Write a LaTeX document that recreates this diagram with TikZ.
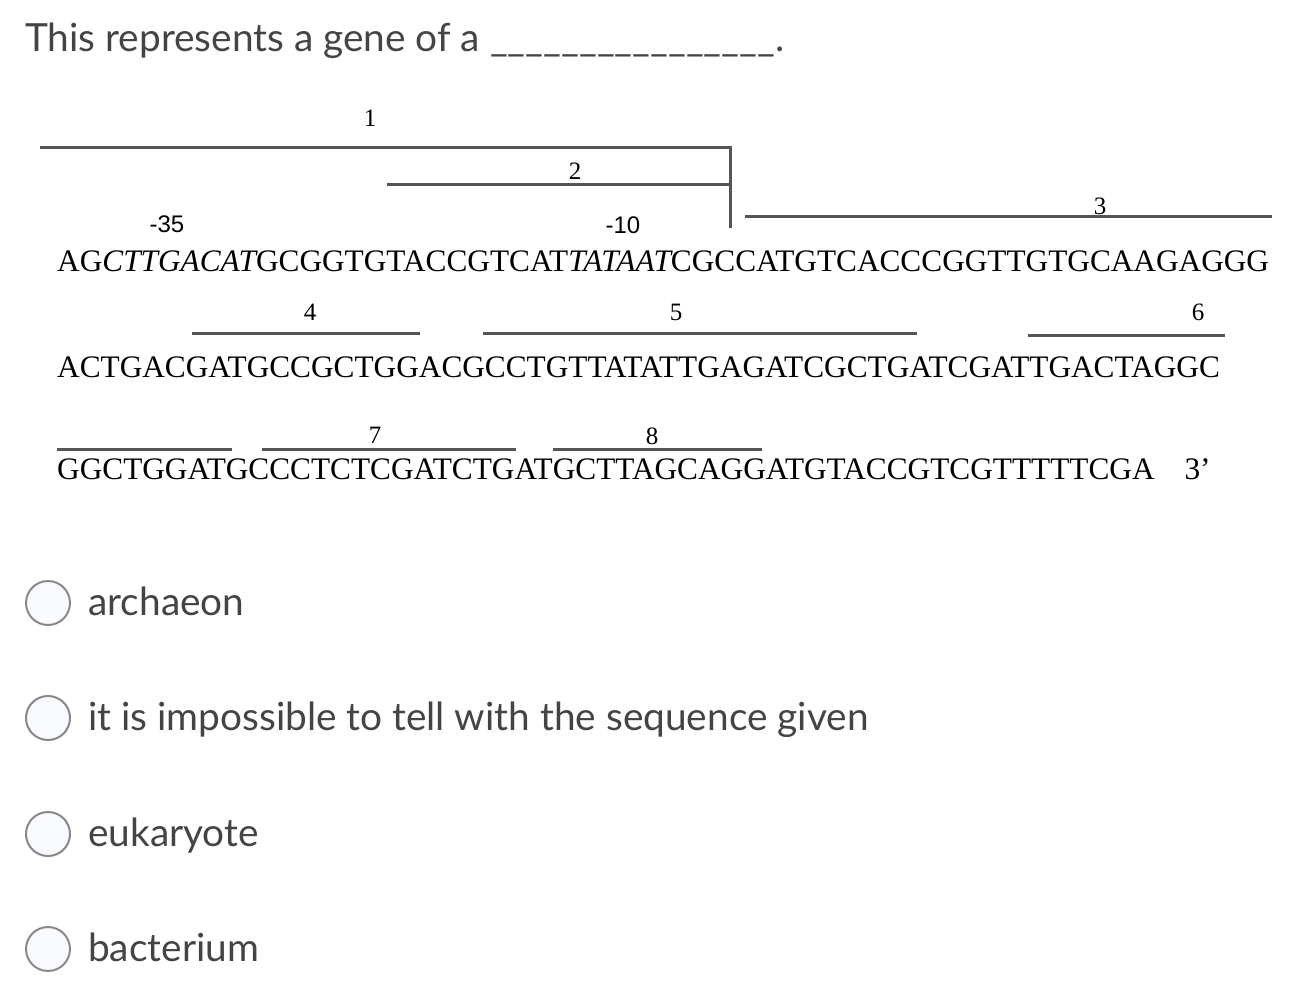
\documentclass[tikz,border=0pt]{standalone}
\usepackage{fontspec}
\setmainfont{Lato}
\newfontfamily\seqfont{Liberation Serif}
\newfontfamily\boxfont{Liberation Sans}
\usepackage{xcolor}
\definecolor{txtgray}{RGB}{68,68,68}
\definecolor{bargray}{RGB}{85,85,85}
\definecolor{ringgray}{RGB}{136,136,136}
\definecolor{ringfill}{RGB}{248,250,255}

\begin{document}
\begin{tikzpicture}[x=1pt, y=-1pt, question/.style={anchor=base west, inner sep=0pt, text=txtgray, font=\fontsize{38.8}{46}\selectfont}, seq/.style={anchor=base west, inner sep=0pt, font=\seqfont\fontsize{31.3}{36}\selectfont}, num/.style={inner sep=0pt, font=\seqfont\fontsize{25}{28}\selectfont}, boxlabel/.style={inner sep=0pt, font=\boxfont\fontsize{24}{28}\selectfont}, bar/.style={draw=bargray, line width=3pt}, radio/.style={circle, draw=ringgray, fill=ringfill, line width=2pt, minimum size=44pt, inner sep=0pt}]
\useasboundingbox (0,0) rectangle (1294,990);
\node[question] (title) at (25,52) {This represents a gene of a \_\_\_\_\_\_\_\_\_\_\_\_\_\_\_\_.};
\node[num] (l1) at (370,118) {1};
\node[num] (l2) at (575,171) {2};
\node[num] (l3) at (1100,206) {3};
\node[boxlabel] (m35) at (167,224) {-35};
\node[boxlabel] (m10) at (623,225) {-10};
\draw[bar] (40,147) -- (730,147) -- (730,228);
\draw[bar] (387,184) -- (730,184);
\draw[bar] (745,216) -- (1272,216);
\node[seq] (seqa) at (57,271) {AG{\itshape CTTGACAT}GCGGTGTACCGTCAT{\itshape TATAAT}CGCCATGTCACCCGGTTGTGCAAGAGGG};
\node[num] (l4) at (310,312) {4};
\node[num] (l5) at (676,312) {5};
\node[num] (l6) at (1198,312) {6};
\draw[bar] (192,333) -- (420,333);
\draw[bar] (483,333) -- (917,333);
\draw[bar] (1028,335) -- (1225,335);
\node[seq] (seqb) at (57,377) {ACTGACGATGCCGCTGGACGCCTGTTATATTGAGATCGCTGATCGATTGACTAGGC};
\node[num] (l7) at (375,435) {7};
\node[num] (l8) at (652,436) {8};
\draw[bar] (57,449) -- (232,449);
\draw[bar] (262,449) -- (516,449);
\draw[bar] (553,449) -- (762,449);
\node[seq] (seqc) at (57,479) {GGCTGGATGCCCTCTCGATCTGATGCTTAGCAGGATGTACCGTCGTTTTTCGA\hspace{30pt}3’};
\node[radio] (ra) at (48,603) {};
\node[question] (opta) at (88,615) {archaeon};
\node[radio] (rb) at (48,718) {};
\node[question] (optb) at (88,730) {it is impossible to tell with the sequence given};
\node[radio] (rc) at (48,834) {};
\node[question] (optc) at (88,846) {eukaryote};
\node[radio] (rd) at (48,949) {};
\node[question] (optd) at (88,961) {bacterium};
\end{tikzpicture}
\end{document}
